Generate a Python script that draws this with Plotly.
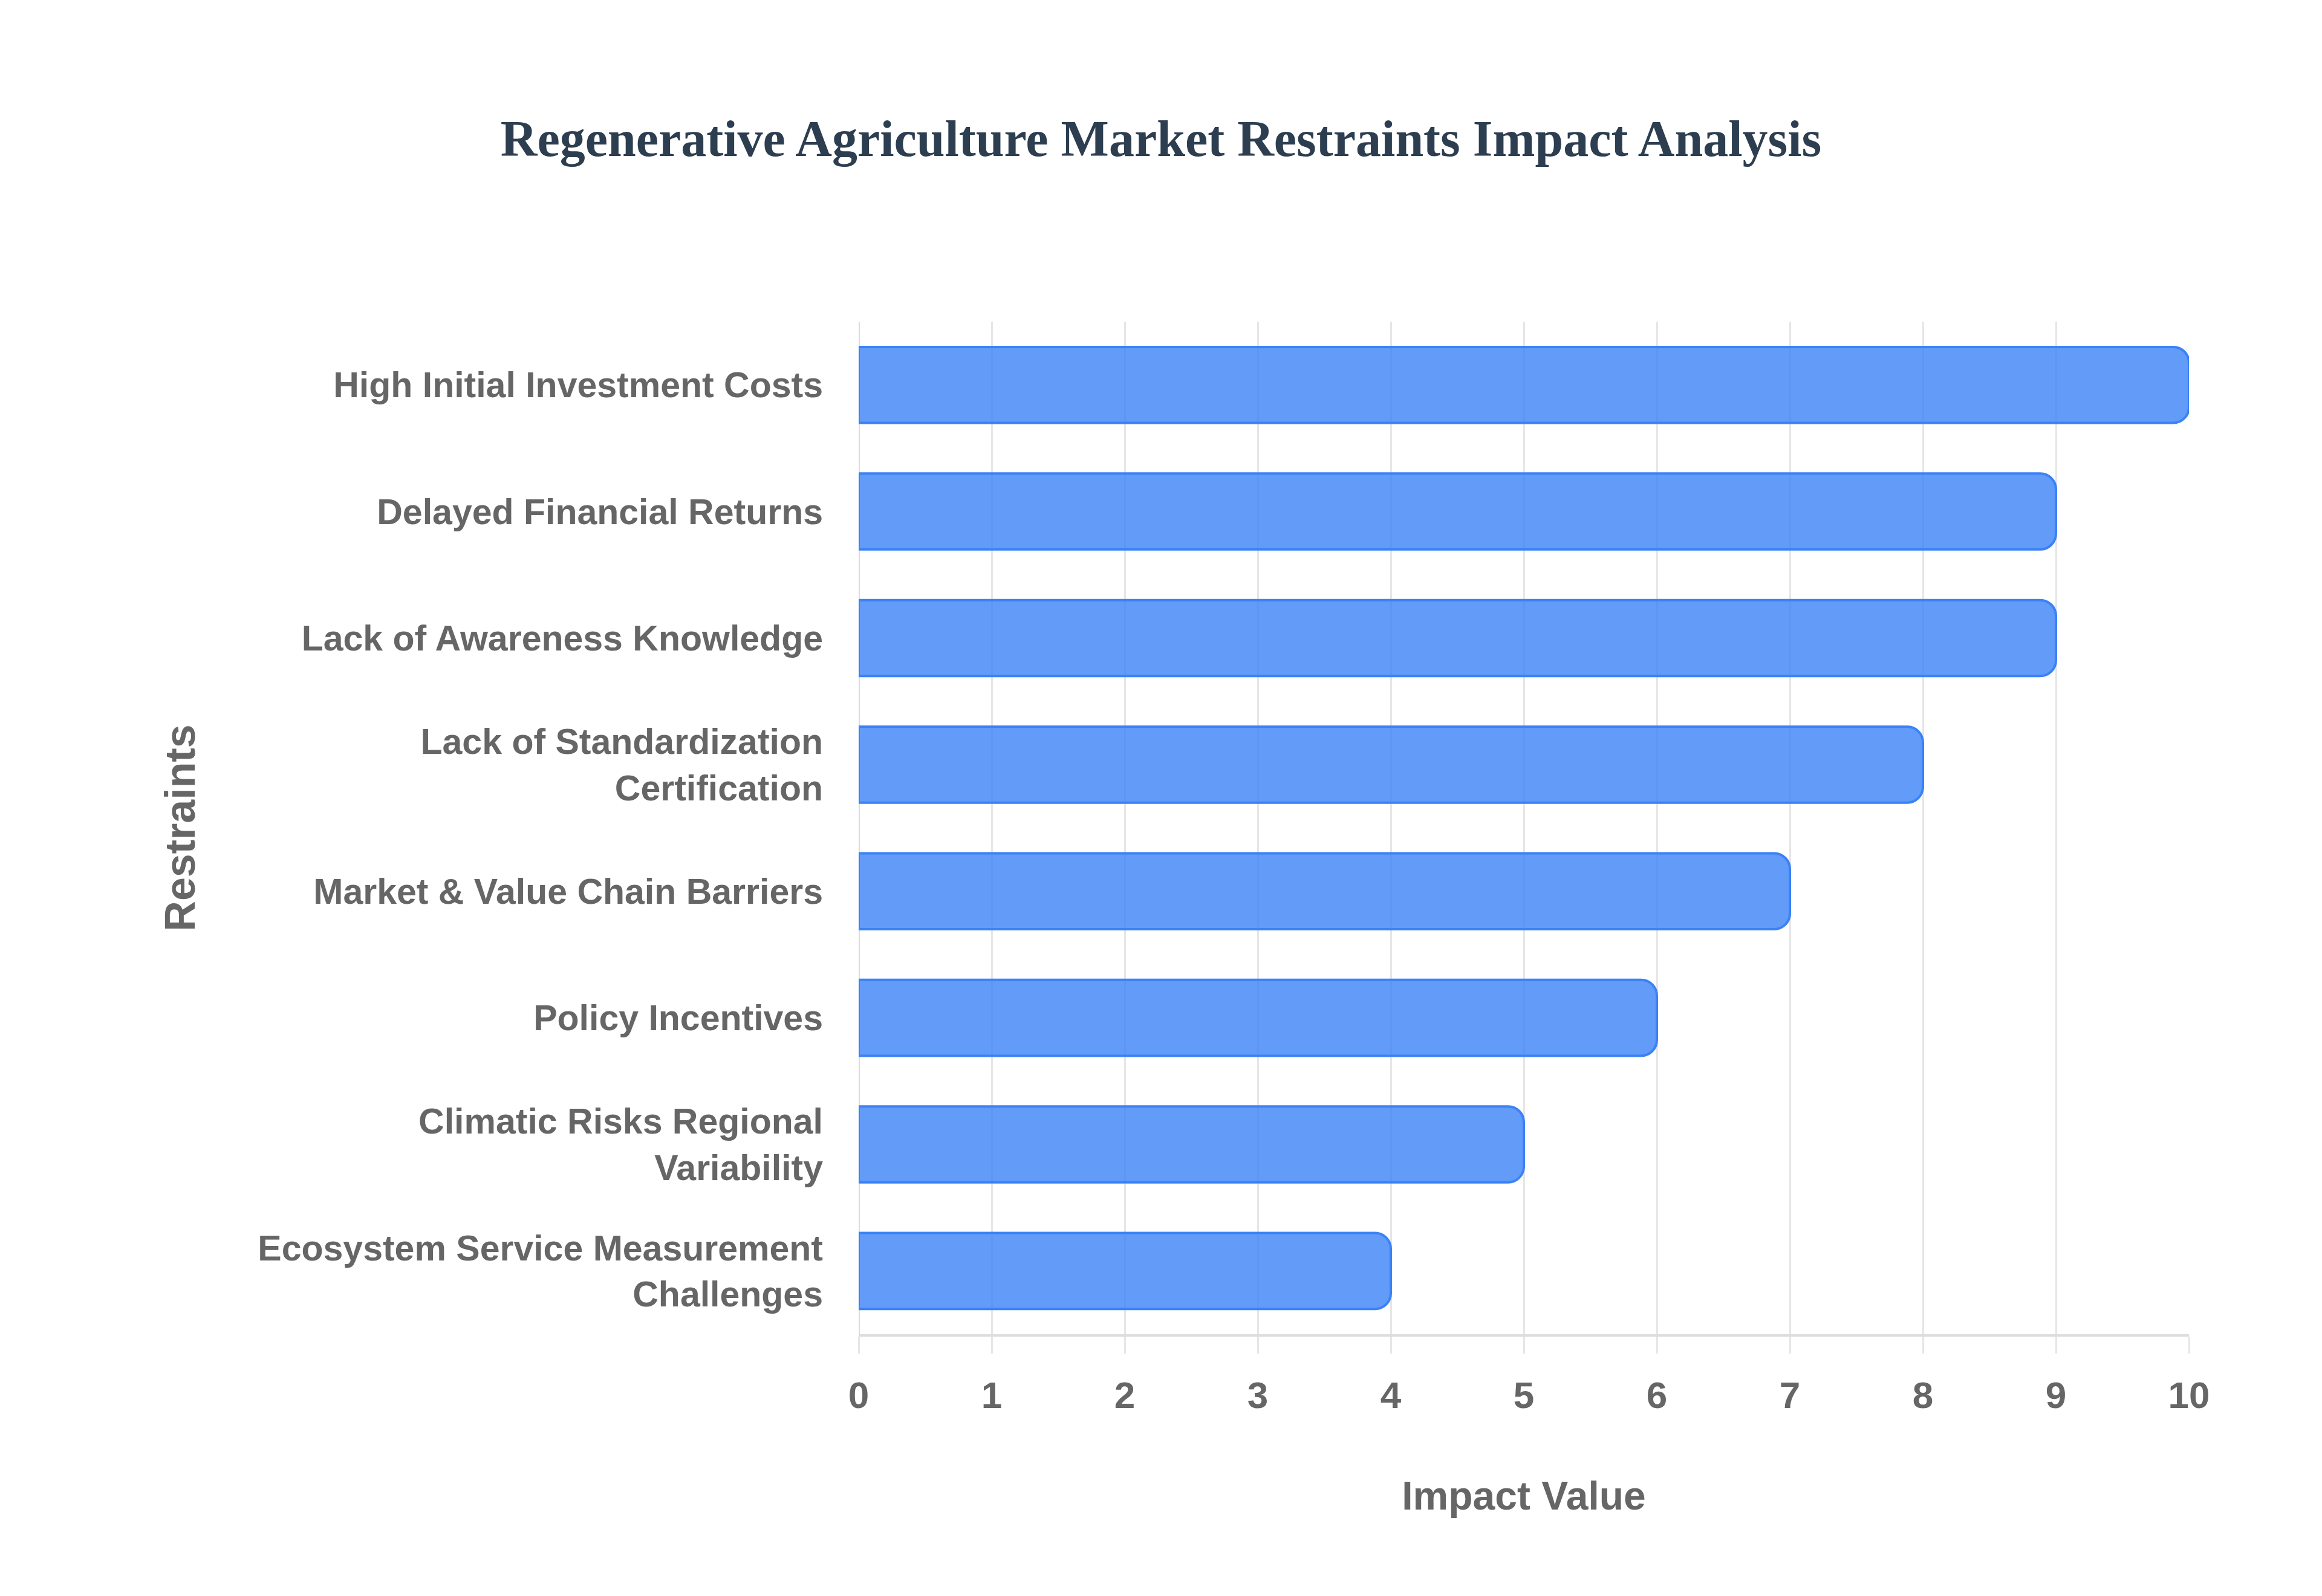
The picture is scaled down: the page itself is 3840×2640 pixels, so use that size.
import plotly.graph_objects as go

categories = [
    "High Initial Investment Costs",
    "Delayed Financial Returns",
    "Lack of Awareness Knowledge",
    "Lack of Standardization<br>Certification",
    "Market & Value Chain Barriers",
    "Policy Incentives",
    "Climatic Risks Regional<br>Variability",
    "Ecosystem Service Measurement<br>Challenges",
]
impact_values = [10, 9, 9, 8, 7, 6, 5, 4]
x_ticks = [0, 1, 2, 3, 4, 5, 6, 7, 8, 9, 10]

title_text = "Regenerative Agriculture Market Restraints Impact Analysis"
x_title = "Impact Value"
y_title = "Restraints"

label_font = "Liberation Sans, Arial, Helvetica, sans-serif"
grid_col = "#e6e6e6"

# page has an 8px body margin; figure is sized so the page fits 3840x2640 exactly
FIG_W, FIG_H = 3824, 2624

fig = go.Figure(
    go.Bar(
        x=impact_values,
        y=categories,
        orientation="h",
        marker=dict(
            color="rgba(59,130,246,0.8)",
            line=dict(color="#3b82f6", width=4),
            cornerradius=26,
        ),
        width=0.6,
        hoverinfo="x+y",
    )
)

fig.update_layout(
    width=FIG_W,
    height=FIG_H,
    paper_bgcolor="white",
    plot_bgcolor="white",
    margin=dict(l=1412, r=212, t=524, b=425),
    showlegend=False,
    title=dict(
        text="<b>" + title_text + "</b>",
        x=0.5,
        xanchor="center",
        y=1 - 221 / FIG_H,
        yanchor="middle",
        font=dict(family="Liberation Serif, Times New Roman, serif", size=84, color="#2c3e50"),
    ),
    xaxis=dict(
        range=[0, 10],
        tickvals=x_ticks,
        ticktext=[str(v) for v in x_ticks],
        showgrid=True,
        gridcolor=grid_col,
        gridwidth=3,
        zeroline=False,
        showline=True,
        linecolor="#dddddd",
        linewidth=4,
        ticks="outside",
        ticklen=28,
        tickwidth=3,
        tickcolor=grid_col,
        ticklabelstandoff=16,
        tickfont=dict(family=label_font, size=62, color="#666666", weight="bold"),
        title=dict(
            text=x_title,
            standoff=110,
            font=dict(family=label_font, size=66, color="#666666", weight="bold"),
        ),
        fixedrange=True,
    ),
    yaxis=dict(
        autorange="reversed",
        showgrid=False,
        zeroline=False,
        showline=False,
        ticks="",
        ticklabelstandoff=58,
        tickfont=dict(family=label_font, size=59, color="#666666", weight="bold"),
        title=dict(
            text=y_title,
            standoff=80,
            font=dict(family=label_font, size=70, color="#666666", weight="bold"),
        ),
        fixedrange=True,
    ),
)

fig.add_shape(
    type="line", xref="x", yref="paper",
    x0=0, x1=0, y0=0, y1=1,
    line=dict(color="#dddddd", width=4),
    layer="below",
)

fig.write_html("out.html")
